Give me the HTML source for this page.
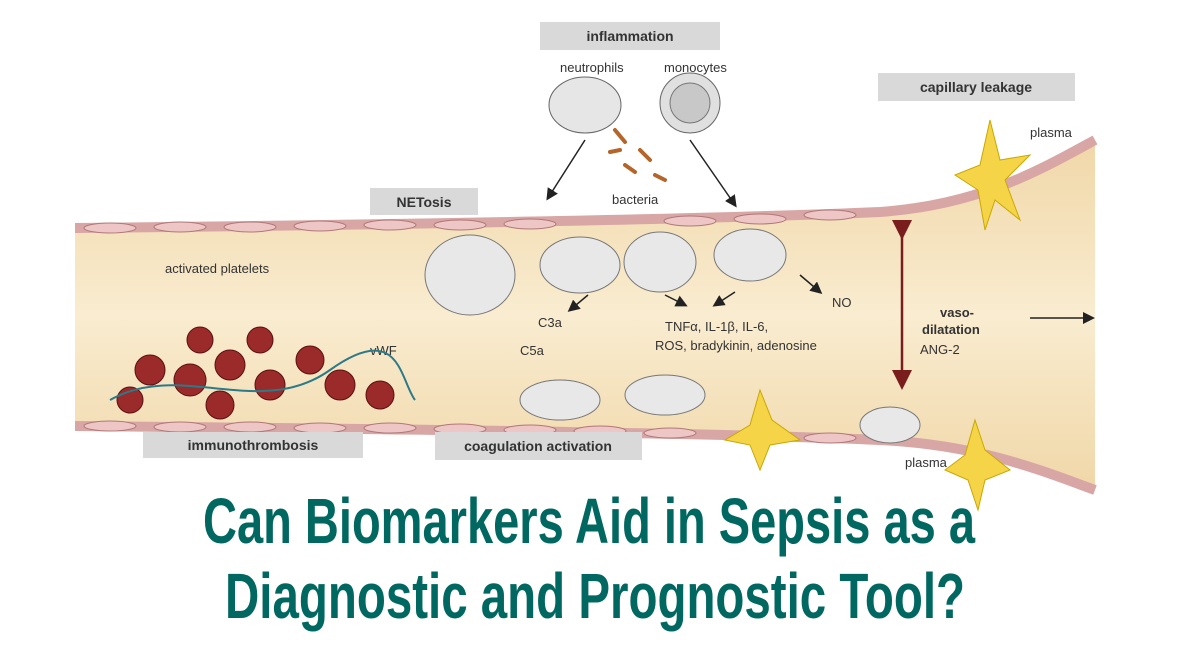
<!DOCTYPE html>
<html><head><meta charset="utf-8"><style>
html,body{margin:0;padding:0;background:#fff;width:1200px;height:647px;overflow:hidden}
</style></head><body>
<svg width="1200" height="647" viewBox="0 0 1200 647" xmlns="http://www.w3.org/2000/svg" font-family="Liberation Sans, sans-serif">
<defs>
<linearGradient id="v" x1="0" y1="0" x2="0" y2="1">
<stop offset="0" stop-color="#f0d7a8"/><stop offset="0.5" stop-color="#f9ecd0"/><stop offset="1" stop-color="#f0d7a8"/>
</linearGradient>
<marker id="a" markerWidth="8" markerHeight="8" refX="6" refY="4" orient="auto"><path d="M0,0 L8,4 L0,8 z" fill="#222"/></marker>
<marker id="r" markerWidth="8" markerHeight="8" refX="6" refY="4" orient="auto"><path d="M0,0 L8,4 L0,8 z" fill="#7a1d1d"/></marker>
</defs>
<path d="M75,228 C300,226 700,220 880,212 C980,205 1040,170 1095,140 L1095,490 C1040,470 980,445 880,440 C700,432 300,428 75,426 Z" fill="url(#v)"/>
<path d="M75,228 C300,226 700,220 880,212 C980,205 1040,170 1095,140" fill="none" stroke="#d9a6a6" stroke-width="10"/>
<path d="M75,426 C300,428 700,432 880,440 C980,445 1040,470 1095,490" fill="none" stroke="#d9a6a6" stroke-width="10"/>
<g fill="#efc6c6" stroke="#b07878" stroke-width="1">
<ellipse cx="110" cy="228" rx="26" ry="5"/><ellipse cx="180" cy="227" rx="26" ry="5"/><ellipse cx="250" cy="227" rx="26" ry="5"/><ellipse cx="320" cy="226" rx="26" ry="5"/><ellipse cx="390" cy="225" rx="26" ry="5"/><ellipse cx="460" cy="225" rx="26" ry="5"/><ellipse cx="530" cy="224" rx="26" ry="5"/><ellipse cx="690" cy="221" rx="26" ry="5"/><ellipse cx="760" cy="219" rx="26" ry="5"/><ellipse cx="830" cy="215" rx="26" ry="5"/>
<ellipse cx="110" cy="426" rx="26" ry="5"/><ellipse cx="180" cy="427" rx="26" ry="5"/><ellipse cx="250" cy="427" rx="26" ry="5"/><ellipse cx="320" cy="428" rx="26" ry="5"/><ellipse cx="390" cy="428" rx="26" ry="5"/><ellipse cx="460" cy="429" rx="26" ry="5"/><ellipse cx="530" cy="430" rx="26" ry="5"/><ellipse cx="600" cy="431" rx="26" ry="5"/><ellipse cx="670" cy="433" rx="26" ry="5"/><ellipse cx="830" cy="438" rx="26" ry="5"/>
</g>
<g fill="#d9d9d9"><rect x="540" y="22" width="180" height="28"/><rect x="878" y="73" width="197" height="28"/><rect x="370" y="188" width="108" height="27"/><rect x="143" y="432" width="220" height="26"/><rect x="435" y="432" width="207" height="28"/></g>
<g font-weight="bold" font-size="14" fill="#333" text-anchor="middle">
<text x="630" y="41">inflammation</text><text x="976" y="92">capillary leakage</text><text x="424" y="207">NETosis</text><text x="253" y="450">immunothrombosis</text><text x="538" y="451">coagulation activation</text>
</g>
<g font-size="13" fill="#333">
<text x="560" y="72">neutrophils</text><text x="664" y="72">monocytes</text><text x="612" y="204">bacteria</text><text x="1030" y="137">plasma</text><text x="905" y="467">plasma</text>
<text x="165" y="273">activated platelets</text><text x="370" y="355">vWF</text><text x="538" y="327">C3a</text><text x="520" y="355">C5a</text>
<text x="832" y="307">NO</text><text x="665" y="331">TNFα, IL-1β, IL-6,</text><text x="655" y="350">ROS, bradykinin, adenosine</text>
<text x="940" y="317" font-weight="bold">vaso-</text><text x="922" y="334" font-weight="bold">dilatation</text><text x="920" y="354">ANG-2</text>
</g>
<ellipse cx="585" cy="105" rx="36" ry="28" fill="#e6e6e6" stroke="#666"/>
<circle cx="690" cy="103" r="30" fill="#e0e0e0" stroke="#666"/><circle cx="690" cy="103" r="20" fill="#c8c8c8" stroke="#777"/>
<g stroke="#b5652a" stroke-width="4" stroke-linecap="round"><line x1="615" y1="130" x2="625" y2="142"/><line x1="640" y1="150" x2="650" y2="160"/><line x1="625" y1="165" x2="635" y2="172"/><line x1="655" y1="175" x2="665" y2="180"/><line x1="610" y1="152" x2="620" y2="150"/></g>
<line x1="585" y1="140" x2="548" y2="198" stroke="#222" stroke-width="1.5" marker-end="url(#a)"/>
<line x1="690" y1="140" x2="735" y2="205" stroke="#222" stroke-width="1.5" marker-end="url(#a)"/>
<g fill="#e8e8e8" stroke="#777">
<ellipse cx="470" cy="275" rx="45" ry="40"/><ellipse cx="580" cy="265" rx="40" ry="28"/><ellipse cx="660" cy="262" rx="36" ry="30"/><ellipse cx="750" cy="255" rx="36" ry="26"/><ellipse cx="560" cy="400" rx="40" ry="20"/><ellipse cx="665" cy="395" rx="40" ry="20"/><ellipse cx="890" cy="425" rx="30" ry="18"/>
</g>
<g stroke="#222" stroke-width="1.5" marker-end="url(#a)"><line x1="588" y1="295" x2="570" y2="310"/><line x1="665" y1="295" x2="685" y2="305"/><line x1="735" y1="292" x2="715" y2="305"/><line x1="800" y1="275" x2="820" y2="292"/><line x1="1030" y1="318" x2="1092" y2="318"/></g>
<line x1="902" y1="235" x2="902" y2="385" stroke="#7a1d1d" stroke-width="2.5" marker-end="url(#r)" marker-start="url(#r)"/>
<g fill="#9b2a2a" stroke="#5a1010"><circle cx="150" cy="370" r="15"/><circle cx="190" cy="380" r="16"/><circle cx="230" cy="365" r="15"/><circle cx="270" cy="385" r="15"/><circle cx="310" cy="360" r="14"/><circle cx="340" cy="385" r="15"/><circle cx="200" cy="340" r="13"/><circle cx="260" cy="340" r="13"/><circle cx="380" cy="395" r="14"/><circle cx="130" cy="400" r="13"/><circle cx="220" cy="405" r="14"/></g>
<path d="M110,400 C180,360 260,420 330,370 S400,380 415,400" stroke="#2a7a8a" stroke-width="2" fill="none"/>
<g fill="#f5d547" stroke="#c9a800"><path d="M990,120 L1000,160 L1030,155 L1005,180 L1020,220 L995,200 L985,230 L978,190 L955,175 L980,165 Z"/><path d="M760,390 L772,420 L800,440 L770,445 L760,470 L750,445 L725,440 L750,425 Z"/><path d="M975,420 L985,450 L1010,470 L985,480 L978,510 L968,480 L945,470 L965,455 Z"/></g>
<g fill="#006860" font-size="64" font-weight="bold" text-anchor="middle">
<text x="589" y="543" textLength="772" lengthAdjust="spacingAndGlyphs">Can Biomarkers Aid in Sepsis as a</text>
<text x="595" y="618" textLength="740" lengthAdjust="spacingAndGlyphs">Diagnostic and Prognostic Tool?</text>
</g>
</svg>
</body></html>
